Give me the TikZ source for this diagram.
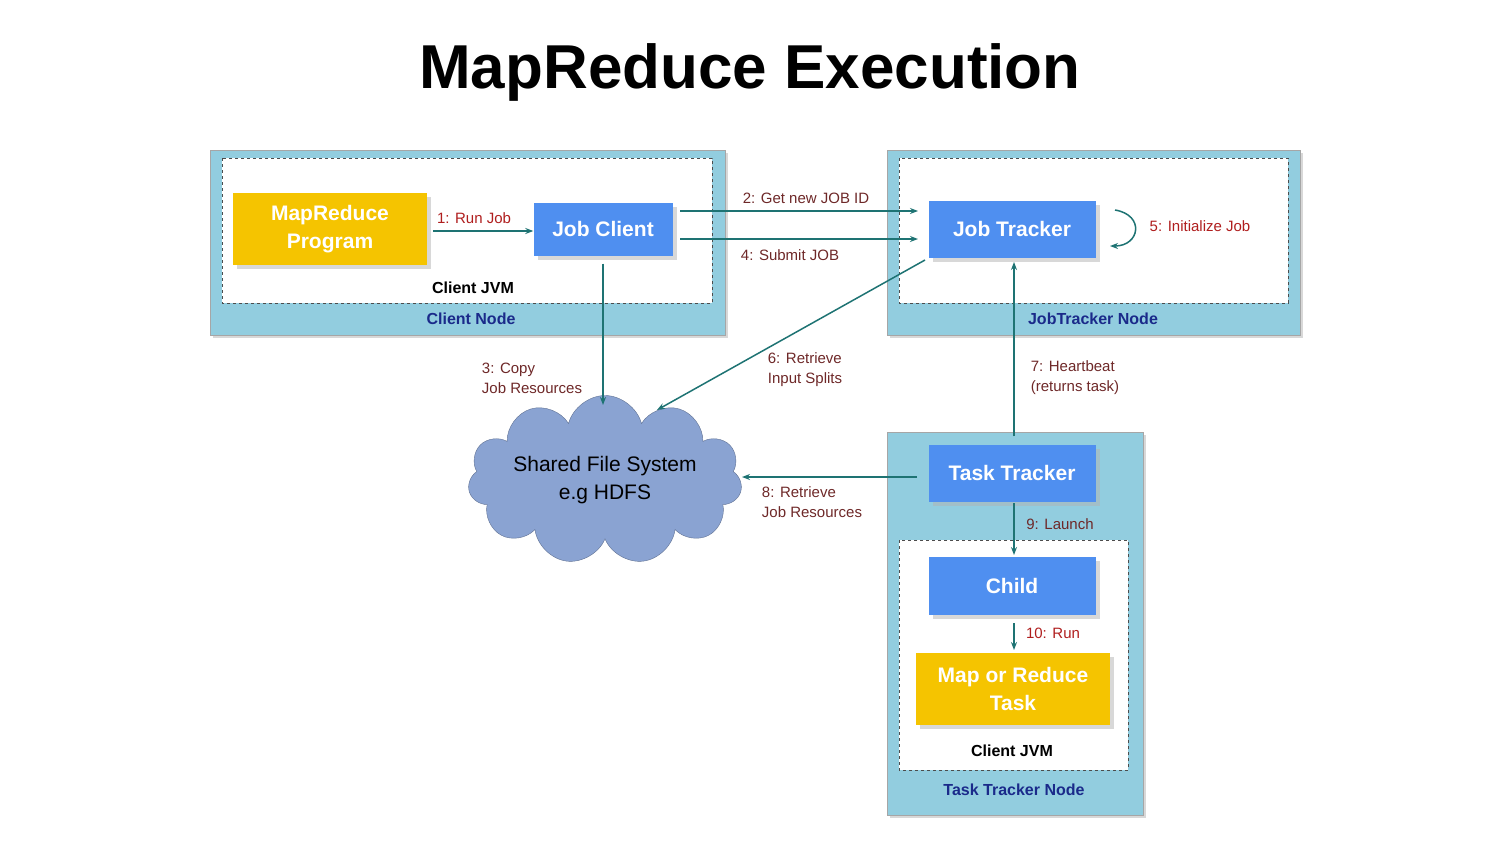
\documentclass[tikz,border=0pt]{standalone}
\usepackage{fontspec}
\setmainfont{Liberation Sans}
\usetikzlibrary{shapes.symbols,shadows,arrows.meta}
\definecolor{nodebg}{HTML}{92CDDF}
\definecolor{bbox}{HTML}{4F8FF0}
\definecolor{ybox}{HTML}{F5C400}
\definecolor{teal}{HTML}{1E7373}
\definecolor{lred}{HTML}{B01E1E}
\definecolor{dred}{HTML}{6E2828}
\definecolor{ndark}{HTML}{1A2A8A}
\definecolor{cloudc}{HTML}{8AA3D2}
\begin{document}
\begin{tikzpicture}[x=1pt,y=-1pt,
  outer/.style={draw=gray!70,fill=nodebg,drop shadow={fill=gray!60,shadow xshift=3pt,shadow yshift=-3pt}},
  inner/.style={draw=black!70,dashed,fill=white},
  blue/.style={fill=bbox,text=white,font=\fontsize{21}{24}\selectfont\bfseries,align=center,inner sep=0pt,drop shadow={fill=gray!60,shadow xshift=4pt,shadow yshift=-4pt}},
  yel/.style={fill=ybox,text=white,font=\fontsize{21}{28}\selectfont\bfseries,align=center,inner sep=0pt,drop shadow={fill=gray!60,shadow xshift=4pt,shadow yshift=-4pt}},
  arr/.style={teal,line width=1.5pt,-{Stealth[length=8pt]}},
  lab/.style={text=dred,font=\fontsize{15}{20}\selectfont,align=left},
  nlab/.style={text=ndark,font=\fontsize{16}{19}\selectfont\bfseries},
  jvm/.style={font=\fontsize{16}{19}\selectfont\bfseries}]
\useasboundingbox (0,0) rectangle (1500,844);
\node (title) at (750,72) {\fontsize{62}{68}\selectfont\bfseries MapReduce Execution};
% Client node
\draw[outer] (210,150) rectangle (725,335);
\draw[inner] (222,158) rectangle (712,303);
\node[nlab] (cn) at (471,319) {Client Node};
\node[jvm] (cjvm) at (473,288) {Client JVM};
\node[yel,minimum width=194pt,minimum height=72pt] (mrp) at (330,229) {MapReduce\\Program};
\node[blue,minimum width=139pt,minimum height=53pt] (jc) at (603,229) {Job Client};
% JobTracker node
\draw[outer] (887,150) rectangle (1300,335);
\draw[inner] (899,158) rectangle (1288,303);
\node[nlab] (jn) at (1093,319) {JobTracker Node};
\node[blue,minimum width=167pt,minimum height=57pt] (jt) at (1012,229) {Job Tracker};
% TaskTracker node
\draw[outer] (887,432) rectangle (1143,815);
\draw[inner] (899,540) rectangle (1128,770);
\node[nlab] (tn) at (1014,790) {Task Tracker Node};
\node[jvm] (tjvm) at (1012,751) {Client JVM};
\node[blue,minimum width=167pt,minimum height=57pt] (tt) at (1012,473) {Task Tracker};
\node[blue,minimum width=167pt,minimum height=58pt] (ch) at (1012,586) {Child};
\node[yel,minimum width=194pt,minimum height=72pt] (mrt) at (1013,689) {Map or Reduce\\Task};
% cloud
\node[cloud,cloud puffs=11,aspect=2.2,draw=cloudc!70!black,fill=cloudc,minimum width=230pt,minimum height=100pt,inner sep=0pt,align=center,font=\fontsize{21}{28}\selectfont] (fs) at (605,480) {Shared File System\\e.g HDFS};
% coordinates
\coordinate (a2s) at (680,211); \coordinate (a2e) at (918,211);
\coordinate (a4s) at (680,239); \coordinate (a4e) at (918,239);
\coordinate (a3e) at (603,405);
\coordinate (a6s) at (925,260); \coordinate (a6e) at (657,410);
\coordinate (a8s) at (917,477); \coordinate (a8e) at (742,477);
\coordinate (l5s) at (1115,210); \coordinate (l5e) at (1110,246);
% arrows
\draw[arr] (mrp.east) ++(6,2) -- (jc.west |- 0,231);
\node[lab,text=lred] (l1) at (474,218) {1: Run Job};
\draw[arr] (a2s) -- (a2e);
\node[lab] (l2) at (806,198) {2: Get new JOB ID};
\draw[arr] (a4s) -- (a4e);
\node[lab] (l4) at (790,255) {4: Submit JOB};
\draw[arr] (jc.south) ++(0,8) -- (a3e);
\node[lab] (l3) at (532,378) {3: Copy\\Job Resources};
\draw[teal,line width=1.5pt,-{Stealth[length=8pt]}] (l5s) .. controls (1145,215) and (1140,246) .. (l5e);
\node[lab,text=lred] (l5) at (1200,226) {5: Initialize Job};
\draw[arr] (a6s) -- (a6e);
\node[lab] (l6) at (805,370) {6: Retrieve\\Input Splits};
\draw[arr] (tt.north) ++(2,-8) -- (1014,262);
\node[lab] (l7) at (1075,378) {7: Heartbeat\\(returns task)};
\draw[arr] (a8s) -- (a8e);
\node[lab] (l8) at (812,502) {8: Retrieve\\Job Resources};
\draw[arr] (1014,503) -- (1014,555);
\node[lab] (l9) at (1060,524) {9: Launch};
\draw[arr] (1014,623) -- (1014,650);
\node[lab,text=lred] (l10) at (1053,633) {10: Run};
\end{tikzpicture}
\end{document}
